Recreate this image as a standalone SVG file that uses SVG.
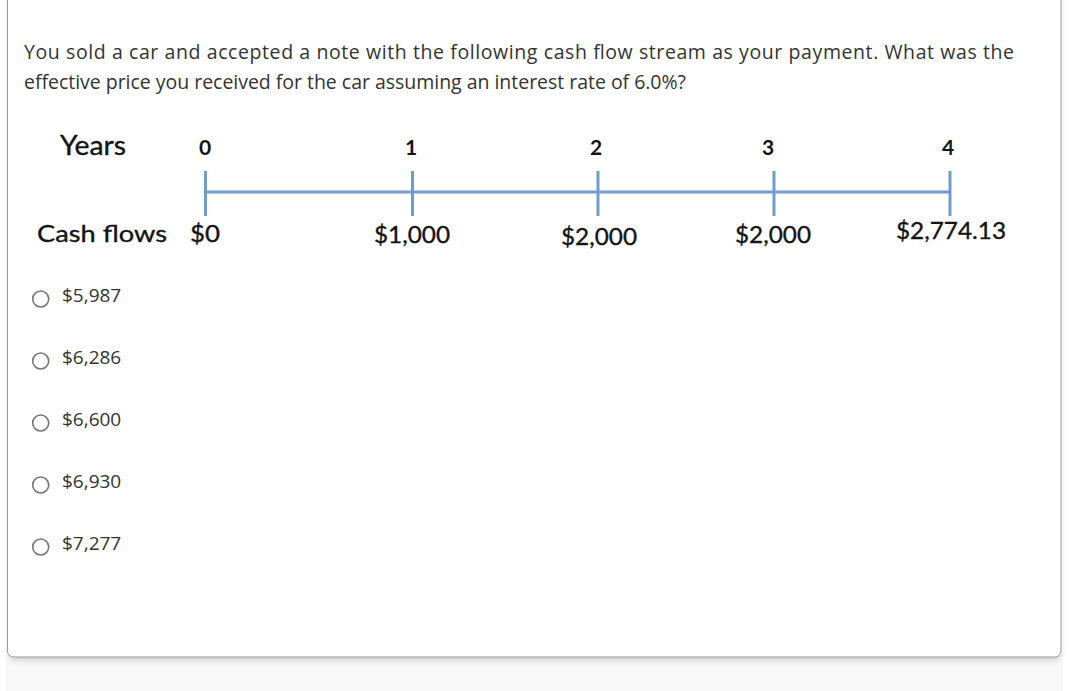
<svg xmlns="http://www.w3.org/2000/svg" width="1069" height="691" viewBox="0 0 1069 691">
<defs>
<style>
.q{font-family:"Open Sans","Liberation Sans",sans-serif;font-size:19.5px;fill:#333}
.o{font-family:"Open Sans","Liberation Sans",sans-serif;font-size:19px;fill:#333}
.t{font-family:Lato,"Open Sans","Liberation Sans",sans-serif;fill:#141414;stroke:#141414;stroke-width:0.35}
.lbl{font-size:26px}
.yr{font-size:21px;font-weight:bold;stroke-width:0}
.cf{font-size:23px}
.axis{stroke:#6f9ccc;stroke-width:3;fill:none}
.radio{fill:#fff;stroke:#777;stroke-width:1.6}
</style>
<filter id="sh" x="-5%" y="-5%" width="110%" height="120%">
<feGaussianBlur stdDeviation="3"/>
</filter>
</defs>
<rect x="0" y="0" width="1069" height="691" fill="#fff"/>
<rect x="6" y="655" width="1057" height="36" fill="#f8f8f8"/>
<rect x="9" y="-10" width="1051" height="670" rx="6" fill="#000" opacity="0.18" filter="url(#sh)"/>
<rect id="card" x="7.5" y="-10" width="1053.5" height="667" rx="6" fill="#fff" stroke="#9a9a9a" stroke-width="1"/>

<g id="question">
<text class="q" x="24" y="59" textLength="990" lengthAdjust="spacing">You sold a car and accepted a note with the following cash flow stream as your payment. What was the</text>
<text class="q" x="24" y="89" textLength="662" lengthAdjust="spacing">effective price you received for the car assuming an interest rate of 6.0%?</text>
</g>

<g id="timeline">
<text class="t lbl" x="60" y="155" textLength="66" lengthAdjust="spacingAndGlyphs">Years</text>
<text class="t yr" x="205" y="155" text-anchor="middle">0</text>
<text class="t yr" x="411" y="155" text-anchor="middle">1</text>
<text class="t yr" x="596" y="155" text-anchor="middle">2</text>
<text class="t yr" x="768" y="155" text-anchor="middle">3</text>
<text class="t yr" x="948" y="155" text-anchor="middle">4</text>
<g id="axis">
<line class="axis" x1="205.5" y1="192" x2="950" y2="192"/>
<line class="axis" x1="205.5" y1="171" x2="205.5" y2="216"/>
<line class="axis" x1="412.5" y1="171" x2="412.5" y2="216"/>
<line class="axis" x1="598" y1="171" x2="598" y2="216"/>
<line class="axis" x1="774" y1="171" x2="774" y2="216"/>
<line class="axis" x1="950" y1="171" x2="950" y2="216"/>
</g>
<text class="t cf" x="37" y="242" textLength="130" lengthAdjust="spacingAndGlyphs">Cash flows</text>
<text class="t cf" x="190" y="242" textLength="30" lengthAdjust="spacingAndGlyphs">$0</text>
<text class="t cf" x="374" y="243" textLength="76" lengthAdjust="spacingAndGlyphs">$1,000</text>
<text class="t cf" x="561" y="245" textLength="76" lengthAdjust="spacingAndGlyphs">$2,000</text>
<text class="t cf" x="735" y="243" textLength="76" lengthAdjust="spacingAndGlyphs">$2,000</text>
<text class="t cf" x="896" y="239" textLength="110" lengthAdjust="spacingAndGlyphs">$2,774.13</text>
</g>

<g id="opt1"><circle class="radio" cx="40.7" cy="299" r="8"/><text class="o" x="62" y="302">$5,987</text></g>
<g id="opt2"><circle class="radio" cx="40.7" cy="361" r="8"/><text class="o" x="62" y="364">$6,286</text></g>
<g id="opt3"><circle class="radio" cx="40.7" cy="423" r="8"/><text class="o" x="62" y="426">$6,600</text></g>
<g id="opt4"><circle class="radio" cx="40.7" cy="485" r="8"/><text class="o" x="62" y="488">$6,930</text></g>
<g id="opt5"><circle class="radio" cx="40.7" cy="547" r="8"/><text class="o" x="62" y="550">$7,277</text></g>
</svg>
